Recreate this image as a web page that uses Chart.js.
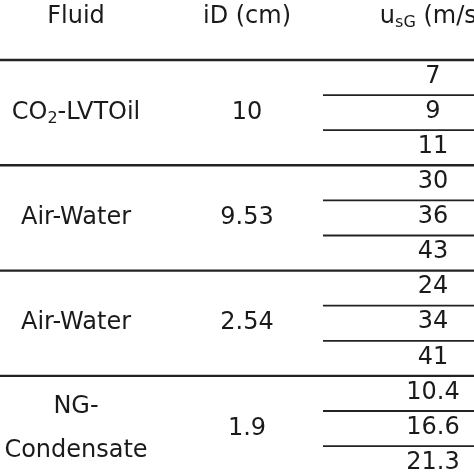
<!DOCTYPE html>
<html><head><meta charset="utf-8">
<script src="https://cdn.jsdelivr.net/npm/chart.js@4"></script>
<style>html,body{margin:0;padding:0;background:#fff}#w{width:474px;height:474px}</style>
</head><body><div id="w"><canvas id="c"></canvas></div>
<script>
const headers = ["Fluid", "iD (cm)", "u|sG| (m/s)"];
const fluids = ["CO|2|-LVTOil", "Air-Water", "Air-Water", "NG-\nCondensate"];
const diameters = ["10", "9.53", "2.54", "1.9"];
const velocities = [["7","9","11"],["30","36","43"],["24","34","41"],["10.4","16.6","21.3"]];

const colX = [76, 247, 433];
const headY = 17, tableTop = 60, rowH = 35.1, subLineX0 = 323;
const FONT = '24px "DejaVu Sans", Verdana, sans-serif';
const SUB = '16px "DejaVu Sans", Verdana, sans-serif';

function richText(ctx, s, cx, cy){
  const parts = s.split('|');
  let w = 0;
  parts.forEach((p,i)=>{ctx.font = i%2? SUB:FONT; w += ctx.measureText(p).width;});
  let x = cx - w/2;
  ctx.textAlign='left';
  parts.forEach((p,i)=>{ctx.font = i%2? SUB:FONT; ctx.fillText(p, x, cy + (i%2?6:0)); x += ctx.measureText(p).width;});
}

const tablePlugin = {
  id:'table',
  afterDraw(chart){
    const ctx = chart.ctx, X = chart.scales.x, Y = chart.scales.y;
    const px = v=>X.getPixelForValue(v), py = v=>Y.getPixelForValue(v);
    ctx.save();
    ctx.fillStyle='#1a1a1a'; ctx.textBaseline='middle';
    headers.forEach((h,i)=>richText(ctx,h,px(colX[i]),py(headY)));
    const line=(x0,x1,y,w)=>{ctx.strokeStyle='#222';ctx.lineWidth=w;ctx.beginPath();ctx.moveTo(px(x0),py(y));ctx.lineTo(px(x1),py(y));ctx.stroke();};
    let r = 0;
    fluids.forEach((f,g)=>{
      const gTop = tableTop + r*rowH, n = velocities[g].length, gMid = gTop + n*rowH/2;
      line(0,474,gTop,2.4);
      const fl = f.split('\n');
      fl.forEach((t,k)=>richText(ctx,t,px(colX[0]),py(gMid + (k-(fl.length-1)/2)*44)));
      richText(ctx,diameters[g],px(colX[1]),py(gMid));
      velocities[g].forEach((v,k)=>{
        const yTop = gTop + k*rowH;
        if(k>0) line(subLineX0,474,yTop,1.8);
        richText(ctx,v,px(colX[2]),py(yTop+rowH/2-1));
      });
      r += n;
    });
    ctx.restore();
  }
};

new Chart(document.getElementById('c'),{
  type:'scatter',
  data:{datasets:[{data:[]}]},
  options:{responsive:true,maintainAspectRatio:false,animation:false,
    layout:{padding:0},
    plugins:{legend:{display:false},tooltip:{enabled:false}},
    scales:{x:{type:'linear',min:0,max:474,display:false},
            y:{type:'linear',min:0,max:474,reverse:true,display:false}}},
  plugins:[tablePlugin]
});
</script></body></html>
